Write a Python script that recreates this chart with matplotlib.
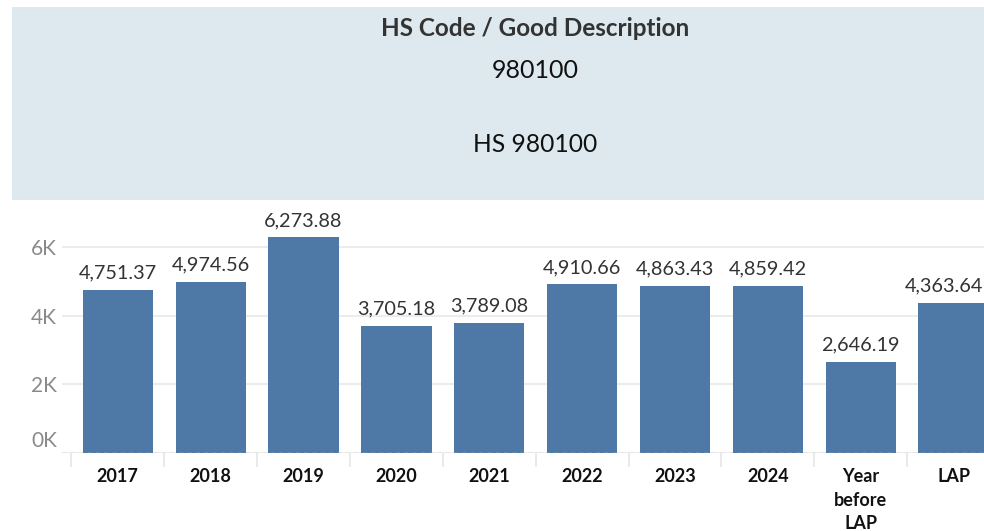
import matplotlib
matplotlib.use("Agg")
import matplotlib.pyplot as plt
from matplotlib.patches import Rectangle
from matplotlib.transforms import ScaledTranslation
import numpy as np

categories = ["2017", "2018", "2019", "2020", "2021", "2022", "2023", "2024", "Year\nbefore\nLAP", "LAP"]
values = [4751.37, 4974.56, 6273.88, 3705.18, 3789.08, 4910.66, 4863.43, 4859.42, 2646.19, 4363.64]
ytick_vals = [0, 2000, 4000, 6000]
ytick_labels = ["0K", "2K", "4K", "6K"]
title = "HS Code / Good Description"
code_text = "980100"
hs_text = "HS 980100"

W, H = 984, 531
fig = plt.figure(figsize=(W / 100, H / 100), dpi=100)
fig.patch.set_facecolor("white")

# header panel
fig.patches.append(Rectangle((12 / W, 1 - 200 / H), 1 - 12 / W, (200 - 7) / H,
                             transform=fig.transFigure, facecolor="#dde9ef",
                             edgecolor="none", zorder=0))
fig.text(535 / W, 1 - 29 / H, title, ha="center", va="center", fontsize=17.5,
         fontweight="bold", color="#333333", family="Lato")
fig.text(535 / W, 1 - 70 / H, code_text, ha="center", va="center", fontsize=18,
         color="#111111", family="Lato")
fig.text(535 / W, 1 - 145 / H, hs_text, ha="center", va="center", fontsize=17.7,
         color="#111111", family="Lato")

# chart axes
left, right, bottom, top = 61.7, 984, 453, 205
ax = fig.add_axes([left / W, 1 - bottom / H, (right - left) / W, (bottom - top) / H])
x = np.arange(len(categories))
ax.bar(x, values, width=0.757, color="#4e79a7", zorder=2)

for s in ax.spines.values():
    s.set_visible(False)
ax.axhline(0, color="#c8c8c8", lw=1, ls=(0, (3, 3)), zorder=3)
ax.set_yticks(ytick_vals)
ax.set_yticklabels(ytick_labels, family="Lato", fontsize=15, color="#8a8a8a")
ax.yaxis.grid(True, color="#ececec", lw=1.5, zorder=0)
ax.set_axisbelow(True)
ax.tick_params(axis="y", length=0, pad=3.5)

ax.set_xticks(x)
ax.set_xticklabels(categories, family="Lato", fontsize=13, fontweight="bold",
                   color="#111111", linespacing=1.45)
ax.set_xticks(np.arange(-0.5, len(categories), 1), minor=True)
ax.tick_params(axis="x", which="major", length=0, pad=11)
ax.tick_params(axis="x", which="minor", length=10, width=1.2, color="#e6e6e6")

ax.set_xlim(-0.604, 9.328)
ax.set_ylim(0, 7220)

# shift 0K label up like the original
for t in ax.get_yticklabels():
    if t.get_text() == "0K":
        t.set_transform(t.get_transform() + ScaledTranslation(0, 14 / 100, fig.dpi_scale_trans))

labels = []
for xi, v in zip(x, values):
    labels.append(ax.annotate(f"{v:,.2f}", (xi, v), xytext=(0, 6), textcoords="offset points",
                              ha="center", va="bottom", fontsize=14.3, family="Lato",
                              color="#333333"))

# keep value labels inside the figure edge
fig.canvas.draw()
renderer = fig.canvas.get_renderer()
for lab in labels:
    bb = lab.get_window_extent(renderer)
    over = bb.x1 - (fig.bbox.x1 - 1)
    if over > 0:
        dx_pt = over * 72 / fig.dpi
        lab.set_position((-dx_pt, 6))

fig.savefig("out.png", dpi=100)
